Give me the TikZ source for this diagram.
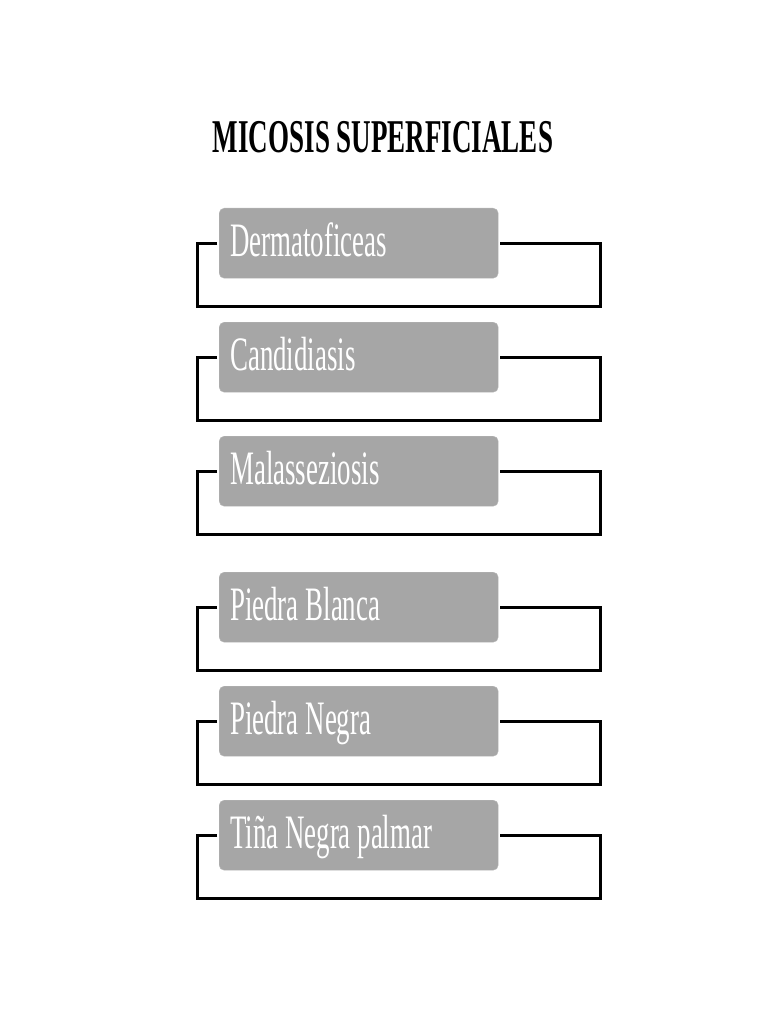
\documentclass[tikz,border=0pt]{standalone}
\usepackage{fontspec}
\setmainfont{Liberation Serif}[FakeStretch=0.56]
\newfontfamily\titlefont{Liberation Serif}[FakeStretch=0.575]
\usepackage{tikz}
\definecolor{gris}{RGB}{166,166,166}

\begin{document}
\begin{tikzpicture}[x=1pt, y=-1pt,
  caja/.style={fill=gris, draw=gris!80, rounded corners=5pt, anchor=north west,
    minimum width=279pt, minimum height=70pt, text width=257pt, inner xsep=11pt,
    align=flush left, text=white, text height=26pt, text depth=0pt,
    font=\fontsize{48}{50}\selectfont},
  linea/.style={line width=3pt, black}]
\useasboundingbox (0,0) rectangle (768,1024);
\node (titulo) [anchor=base, font=\titlefont\bfseries\fontsize{47}{50}\selectfont] at (383,153) {MICOSIS SUPERFICIALES};
% filas
\node (d1) [caja] at (219,208) {Dermatoficeas};
\node (d2) [caja] at (219,322) {Candidiasis};
\node (d3) [caja] at (219,436) {Malasseziosis};
\node (d4) [caja] at (219,572) {Piedra Blanca};
\node (d5) [caja] at (219,686) {Piedra Negra};
\node (d6) [caja] at (219,800) {Tiña Negra palmar};
% esquinas de abajo
\coordinate (l1) at (197,306); \coordinate (r1) at (600,306);
\coordinate (l2) at (197,420); \coordinate (r2) at (600,420);
\coordinate (l3) at (197,534); \coordinate (r3) at (600,534);
\coordinate (l4) at (197,670); \coordinate (r4) at (600,670);
\coordinate (l5) at (197,784); \coordinate (r5) at (600,784);
\coordinate (l6) at (197,898); \coordinate (r6) at (600,898);
\draw[linea] ([xshift=-2pt]d1.west) -| (l1) -- (r1) |- ([xshift=2pt]d1.east);
\draw[linea] ([xshift=-2pt]d2.west) -| (l2) -- (r2) |- ([xshift=2pt]d2.east);
\draw[linea] ([xshift=-2pt]d3.west) -| (l3) -- (r3) |- ([xshift=2pt]d3.east);
\draw[linea] ([xshift=-2pt]d4.west) -| (l4) -- (r4) |- ([xshift=2pt]d4.east);
\draw[linea] ([xshift=-2pt]d5.west) -| (l5) -- (r5) |- ([xshift=2pt]d5.east);
\draw[linea] ([xshift=-2pt]d6.west) -| (l6) -- (r6) |- ([xshift=2pt]d6.east);
\end{tikzpicture}
\end{document}
